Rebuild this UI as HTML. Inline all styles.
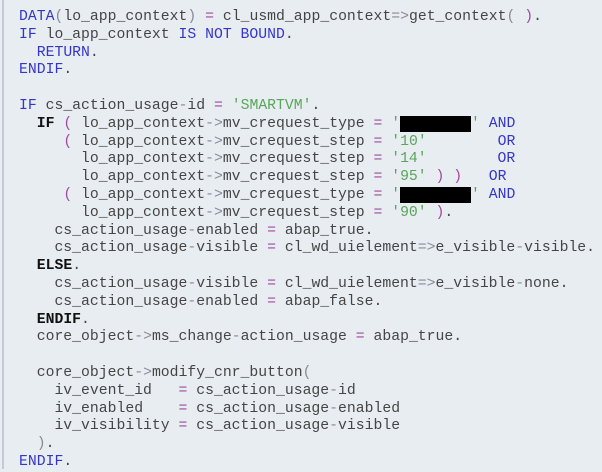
<!DOCTYPE html>
<html><head><meta charset="utf-8"><style>
html,body{margin:0;padding:0;}
body{width:602px;height:469px;background:#e7edf1;position:relative;overflow:hidden;}
.bar{position:absolute;left:2px;top:0;width:2px;height:469px;background:#c3ccd6;}
pre{position:absolute;left:19px;top:9px;margin:0;font-family:"Liberation Mono","Courier New",monospace;font-size:14.77px;line-height:17.8px;color:#454545;}
.k{color:#3535c8;}
.s{color:#5aa55a;}
.o{color:#a04aa0;}
.p{color:#8a8a9a;}
.b{color:#111;font-weight:bold;}
.r{background:#000;color:#000;}
</style></head><body>
<div class="bar"></div>
<pre><span class="k">DATA</span><span class="p">(</span>lo_app_context<span class="p">)</span> <span class="o">=</span> cl_usmd_app_context<span class="p">=&gt;</span>get_context<span class="p">(</span> <span class="o">)</span>.
<span class="k">IF</span> lo_app_context <span class="k">IS NOT BOUND</span>.
  <span class="k">RETURN</span>.
<span class="k">ENDIF</span>.

<span class="k">IF</span> cs_action_usage<span class="p">-</span>id <span class="o">=</span> <span class="s">'SMARTVM'</span>.
  <span class="b">IF</span> <span class="o">(</span> lo_app_context<span class="p">-&gt;</span>mv_crequest_type <span class="o">=</span> <span class="s">'<span class="r">XXXXXXXX</span>'</span> <span class="k">AND</span>
     <span class="o">(</span> lo_app_context<span class="p">-&gt;</span>mv_crequest_step <span class="o">=</span> <span class="s">'10'</span>        <span class="k">OR</span>
       lo_app_context<span class="p">-&gt;</span>mv_crequest_step <span class="o">=</span> <span class="s">'14'</span>        <span class="k">OR</span>
       lo_app_context<span class="p">-&gt;</span>mv_crequest_step <span class="o">=</span> <span class="s">'95'</span> <span class="o">)</span> <span class="o">)</span>   <span class="k">OR</span>
     <span class="o">(</span> lo_app_context<span class="p">-&gt;</span>mv_crequest_type <span class="o">=</span> <span class="s">'<span class="r">XXXXXXXX</span>'</span> <span class="k">AND</span>
       lo_app_context<span class="p">-&gt;</span>mv_crequest_step <span class="o">=</span> <span class="s">'90'</span> <span class="o">)</span>.
    cs_action_usage<span class="p">-</span>enabled <span class="o">=</span> abap_true.
    cs_action_usage<span class="p">-</span>visible <span class="o">=</span> cl_wd_uielement<span class="p">=&gt;</span>e_visible<span class="p">-</span>visible.
  <span class="b">ELSE</span>.
    cs_action_usage<span class="p">-</span>visible <span class="o">=</span> cl_wd_uielement<span class="p">=&gt;</span>e_visible<span class="p">-</span>none.
    cs_action_usage<span class="p">-</span>enabled <span class="o">=</span> abap_false.
  <span class="b">ENDIF</span>.
  core_object<span class="p">-&gt;</span>ms_change<span class="p">-</span>action_usage <span class="o">=</span> abap_true.

  core_object<span class="p">-&gt;</span>modify_cnr_button<span class="p">(</span>
    iv_event_id   <span class="o">=</span> cs_action_usage<span class="p">-</span>id
    iv_enabled    <span class="o">=</span> cs_action_usage<span class="p">-</span>enabled
    iv_visibility <span class="o">=</span> cs_action_usage<span class="p">-</span>visible
  <span class="p">)</span>.
<span class="k">ENDIF</span>.</pre>
</body></html>
